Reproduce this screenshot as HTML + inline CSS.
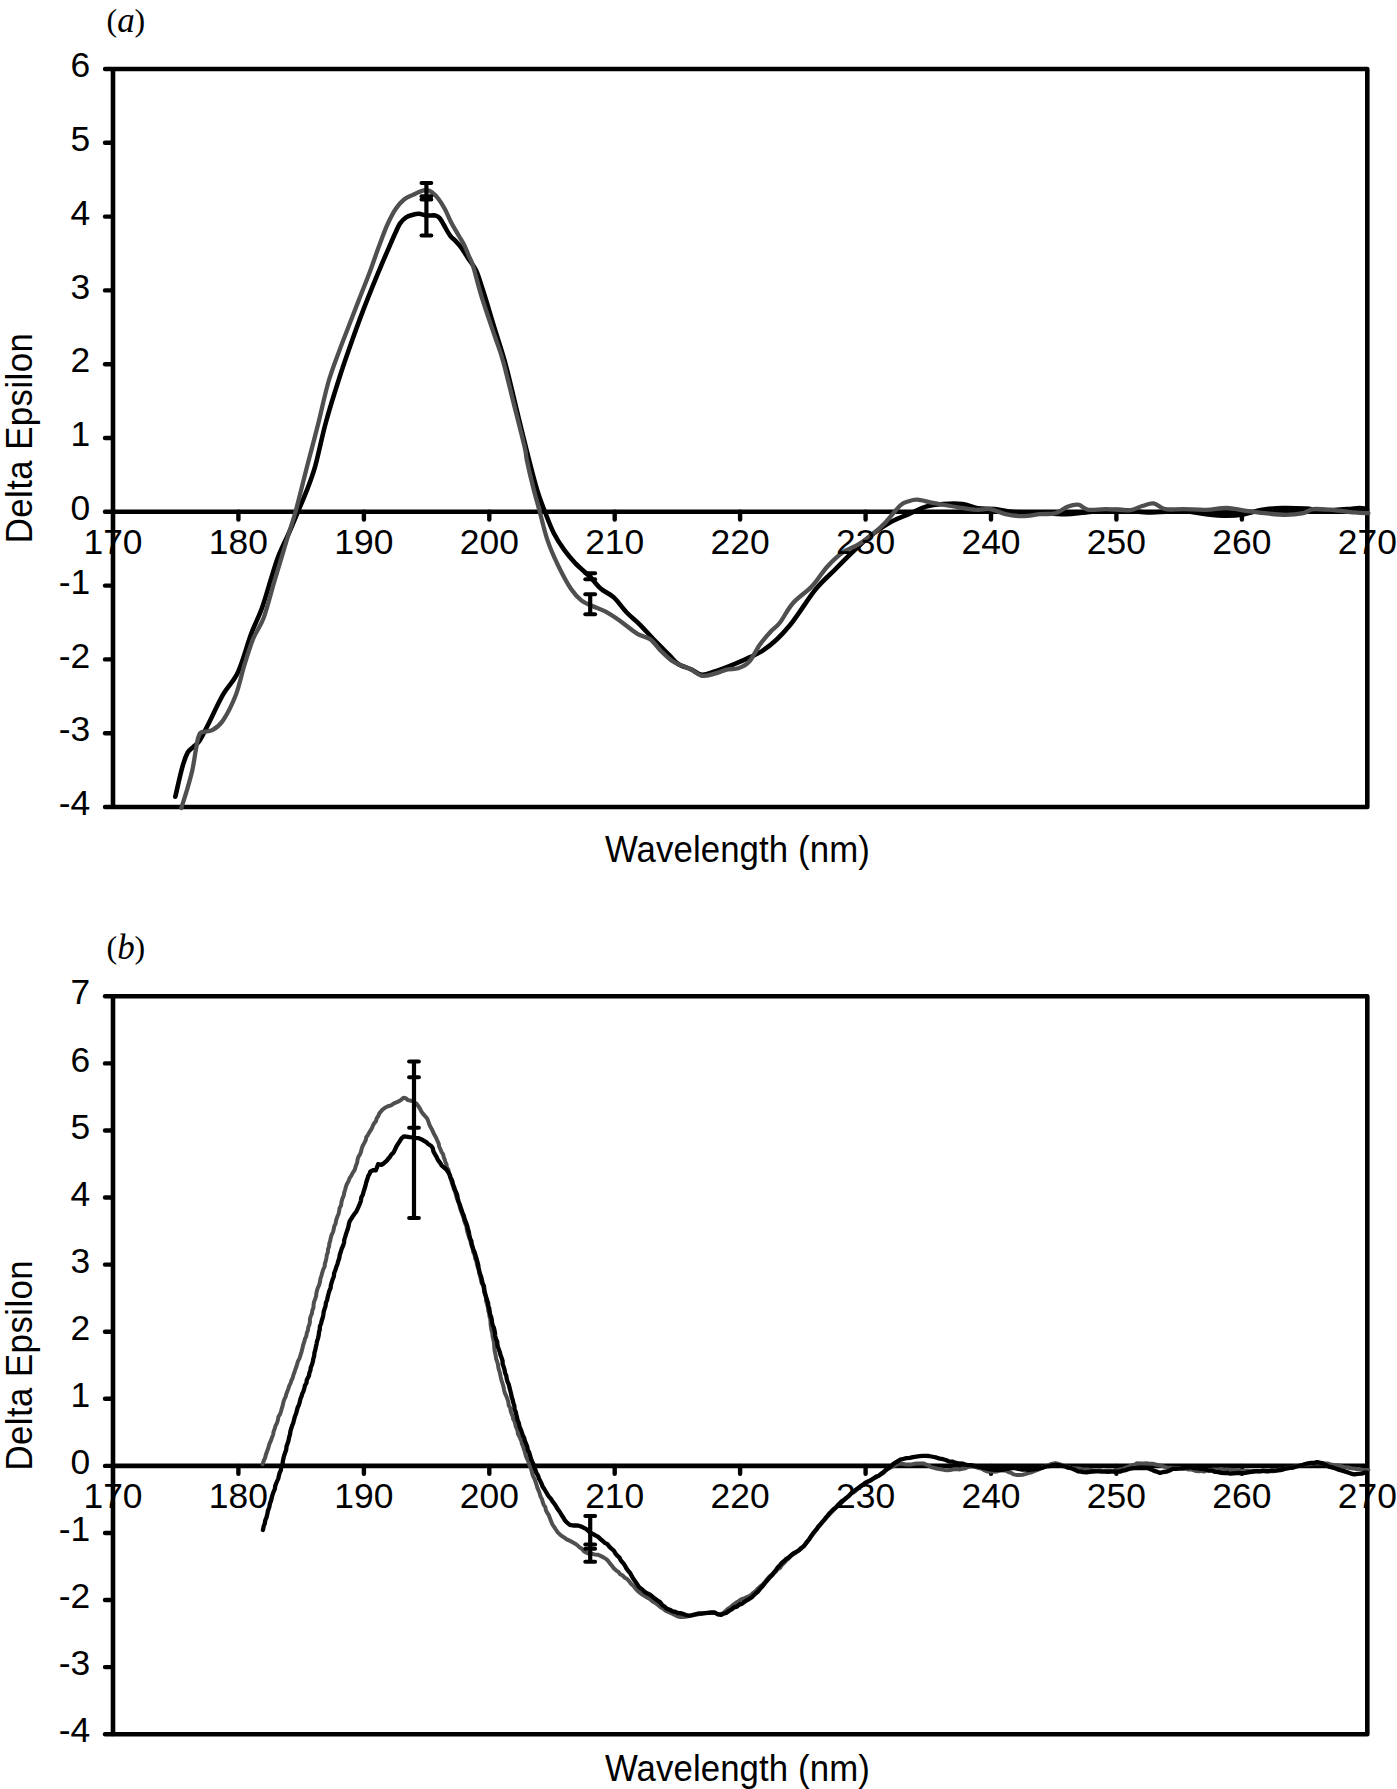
<!DOCTYPE html>
<html><head><meta charset="utf-8"><title>CD spectra</title>
<style>
html,body{margin:0;padding:0;background:#fff;}
body{width:1397px;height:1789px;overflow:hidden;}
svg{display:block;font-family:"Liberation Sans",sans-serif;fill:#000;}
</style></head><body>
<svg width="1397" height="1789" viewBox="0 0 1397 1789">
<rect width="1397" height="1789" fill="#fff"/>
<rect x="113.0" y="69.0" width="1254.3" height="738.0" fill="none" stroke="#000" stroke-width="4.6" stroke-linejoin="round"/>
<line x1="113.0" y1="511.8" x2="1367.3" y2="511.8" stroke="#000" stroke-width="4.6"/>
<line x1="105" y1="807.0" x2="112.0" y2="807.0" stroke="#000" stroke-width="4.4" stroke-linecap="round"/>
<line x1="105" y1="733.2" x2="112.0" y2="733.2" stroke="#000" stroke-width="4.4" stroke-linecap="round"/>
<line x1="105" y1="659.4" x2="112.0" y2="659.4" stroke="#000" stroke-width="4.4" stroke-linecap="round"/>
<line x1="105" y1="585.6" x2="112.0" y2="585.6" stroke="#000" stroke-width="4.4" stroke-linecap="round"/>
<line x1="105" y1="511.8" x2="112.0" y2="511.8" stroke="#000" stroke-width="4.4" stroke-linecap="round"/>
<line x1="105" y1="438.0" x2="112.0" y2="438.0" stroke="#000" stroke-width="4.4" stroke-linecap="round"/>
<line x1="105" y1="364.2" x2="112.0" y2="364.2" stroke="#000" stroke-width="4.4" stroke-linecap="round"/>
<line x1="105" y1="290.4" x2="112.0" y2="290.4" stroke="#000" stroke-width="4.4" stroke-linecap="round"/>
<line x1="105" y1="216.6" x2="112.0" y2="216.6" stroke="#000" stroke-width="4.4" stroke-linecap="round"/>
<line x1="105" y1="142.8" x2="112.0" y2="142.8" stroke="#000" stroke-width="4.4" stroke-linecap="round"/>
<line x1="105" y1="69.0" x2="112.0" y2="69.0" stroke="#000" stroke-width="4.4" stroke-linecap="round"/>
<line x1="238.4" y1="511.8" x2="238.4" y2="519.6" stroke="#000" stroke-width="4.4" stroke-linecap="round"/>
<line x1="363.9" y1="511.8" x2="363.9" y2="519.6" stroke="#000" stroke-width="4.4" stroke-linecap="round"/>
<line x1="489.3" y1="511.8" x2="489.3" y2="519.6" stroke="#000" stroke-width="4.4" stroke-linecap="round"/>
<line x1="614.7" y1="511.8" x2="614.7" y2="519.6" stroke="#000" stroke-width="4.4" stroke-linecap="round"/>
<line x1="740.1" y1="511.8" x2="740.1" y2="519.6" stroke="#000" stroke-width="4.4" stroke-linecap="round"/>
<line x1="865.6" y1="511.8" x2="865.6" y2="519.6" stroke="#000" stroke-width="4.4" stroke-linecap="round"/>
<line x1="991.0" y1="511.8" x2="991.0" y2="519.6" stroke="#000" stroke-width="4.4" stroke-linecap="round"/>
<line x1="1116.4" y1="511.8" x2="1116.4" y2="519.6" stroke="#000" stroke-width="4.4" stroke-linecap="round"/>
<line x1="1241.9" y1="511.8" x2="1241.9" y2="519.6" stroke="#000" stroke-width="4.4" stroke-linecap="round"/>
<path d="M175.3,796.7 C176.5,791.9 180.1,775.0 182.2,767.7 C184.2,760.4 185.8,756.1 187.6,752.7 C189.4,749.3 190.9,749.3 192.9,747.3 C194.9,745.3 196.9,744.6 199.4,740.9 C201.9,737.1 204.1,732.5 208.0,724.8 C211.9,717.1 218.0,703.5 223.0,694.7 C228.0,685.9 233.3,682.2 238.0,672.2 C242.7,662.2 247.0,645.2 250.9,634.6 C254.8,624.0 258.1,618.8 261.7,608.8 C265.3,598.8 269.5,583.4 272.4,574.5 C275.2,565.6 275.9,562.4 278.8,555.2 C281.7,548.0 286.4,538.9 289.6,531.5 C292.8,524.1 295.4,517.7 298.2,511.1 C301.0,504.5 303.4,499.2 306.3,491.7 C309.2,484.2 312.1,477.3 315.3,465.9 C318.5,454.4 321.8,437.3 325.7,423.0 C329.6,408.7 334.4,393.3 338.7,380.0 C342.9,366.7 347.0,355.0 351.2,343.1 C355.4,331.2 359.4,320.1 363.8,308.7 C368.2,297.2 373.6,283.9 377.5,274.4 C381.4,264.9 384.1,258.7 387.2,251.6 C390.2,244.5 393.6,236.6 395.8,231.9 C398.0,227.2 398.4,225.7 400.1,223.3 C401.8,220.9 404.0,218.7 406.1,217.3 C408.2,215.9 410.9,215.3 413.0,214.7 C415.1,214.1 416.7,213.7 419.0,213.8 C421.3,213.9 424.0,215.2 426.7,215.5 C429.4,215.8 433.1,215.1 435.3,215.5 C437.5,215.9 438.2,216.5 439.6,218.1 C441.0,219.7 442.2,222.1 443.9,225.0 C445.6,227.9 447.9,232.6 449.9,235.3 C451.9,238.0 454.0,239.3 455.9,241.3 C457.8,243.3 459.7,245.4 461.1,247.3 C462.5,249.2 463.2,250.5 464.5,252.5 C465.8,254.5 466.9,256.3 468.8,259.3 C470.7,262.3 473.7,265.4 476.0,270.3 C478.3,275.2 479.4,279.3 482.5,288.8 C485.6,298.3 490.5,315.0 494.3,327.5 C498.1,340.0 501.9,350.8 505.5,364.0 C509.1,377.2 512.5,392.7 516.0,407.0 C519.5,421.3 523.1,436.4 526.5,449.9 C529.9,463.4 533.5,477.6 536.5,487.9 C539.5,498.2 541.9,504.0 544.8,511.5 C547.7,519.0 550.4,526.5 553.7,533.0 C557.0,539.5 560.8,545.2 564.4,550.2 C568.0,555.2 570.9,558.6 575.2,563.1 C579.5,567.6 585.9,572.7 590.2,577.0 C594.5,581.3 597.0,585.4 600.9,588.8 C604.8,592.2 609.5,593.4 613.8,597.4 C618.1,601.4 622.4,608.0 626.7,612.5 C631.0,617.0 635.0,619.6 639.6,624.3 C644.2,628.9 649.6,635.2 654.6,640.4 C659.6,645.6 665.7,651.5 669.6,655.4 C673.5,659.3 674.6,661.7 678.2,664.0 C681.8,666.3 687.2,667.6 691.1,669.4 C695.0,671.2 697.9,674.4 701.8,674.7 C705.7,675.1 709.7,673.1 714.7,671.5 C719.7,669.9 726.5,667.2 731.9,665.1 C737.3,663.0 741.9,660.9 746.9,658.6 C751.9,656.3 757.0,654.3 762.0,651.1 C767.0,647.9 772.4,643.6 777.0,639.3 C781.6,635.0 786.1,629.9 789.9,625.3 C793.7,620.6 795.6,617.6 800.0,611.4 C804.4,605.2 810.5,595.3 816.5,588.2 C822.5,581.1 829.3,575.2 835.8,568.8 C842.2,562.3 849.1,555.2 855.2,549.5 C861.3,543.8 866.2,539.1 872.3,534.5 C878.4,529.9 885.6,525.0 891.7,521.6 C897.8,518.2 903.1,516.6 908.8,514.1 C914.5,511.6 920.3,508.3 926.0,506.6 C931.7,504.9 937.1,504.4 943.2,504.0 C949.3,503.6 956.8,503.3 962.5,504.0 C968.2,504.7 972.2,507.4 977.6,508.3 C983.0,509.2 989.0,508.5 994.7,509.1 C1000.4,509.7 1004.7,511.2 1011.9,511.9 C1019.1,512.5 1028.8,512.6 1037.7,513.0 C1046.7,513.4 1057.5,514.3 1065.6,514.2 C1073.6,514.1 1077.5,513.1 1086.0,512.4 C1094.5,511.7 1106.5,509.8 1116.7,509.8 C1126.9,509.8 1136.2,512.2 1147.3,512.4 C1158.4,512.6 1173.3,510.8 1183.1,511.1 C1192.9,511.4 1198.8,513.4 1206.1,514.2 C1213.3,515.0 1220.2,515.7 1226.6,515.7 C1233.0,515.7 1238.5,515.2 1244.4,514.2 C1250.4,513.2 1255.9,510.8 1262.3,509.8 C1268.7,508.8 1275.5,508.2 1282.8,508.0 C1290.0,507.8 1299.4,508.2 1305.8,508.6 C1312.2,509.0 1314.3,510.5 1321.1,510.6 C1327.9,510.7 1340.3,509.5 1346.7,509.1 C1353.1,508.7 1356.0,508.0 1359.4,508.0 C1362.8,508.0 1365.7,508.9 1367.0,509.1" fill="none" stroke="#000" stroke-width="4.6" stroke-linejoin="round" stroke-linecap="round"/>
<path d="M181.3,808.0 C182.2,805.1 184.9,797.1 186.7,790.9 C188.5,784.7 190.7,777.5 192.2,770.8 C193.7,764.1 194.7,756.3 195.7,750.7 C196.7,745.1 197.4,740.1 198.4,737.0 C199.4,733.9 199.2,733.4 201.5,732.3 C203.8,731.2 208.7,732.2 212.3,730.2 C215.9,728.2 219.1,726.4 223.0,720.5 C226.9,714.6 232.3,704.0 235.9,694.7 C239.5,685.4 241.6,674.0 244.5,664.7 C247.4,655.4 249.9,646.8 253.1,638.9 C256.3,631.0 260.2,627.1 263.8,617.4 C267.4,607.7 270.6,594.1 274.5,580.9 C278.4,567.7 283.9,549.6 287.4,538.0 C290.9,526.4 292.3,523.5 295.6,511.5 C298.9,499.5 303.4,480.8 307.2,466.0 C311.0,451.2 314.8,437.3 318.4,423.0 C322.0,408.7 325.0,393.3 329.0,380.0 C333.0,366.7 337.2,356.4 342.2,343.1 C347.2,329.8 354.2,312.1 358.8,300.1 C363.4,288.2 366.7,280.2 370.0,271.4 C373.3,262.6 375.7,255.0 378.6,247.3 C381.5,239.6 384.3,231.4 387.2,225.0 C390.1,218.6 392.9,213.0 395.8,208.7 C398.7,204.4 401.5,201.5 404.4,199.2 C407.3,196.9 410.1,196.3 413.0,194.9 C415.9,193.5 419.2,191.8 421.5,191.0 C423.8,190.2 425.0,190.0 426.7,190.2 C428.4,190.4 429.9,190.8 431.9,192.3 C433.9,193.8 436.6,196.5 438.7,199.2 C440.8,201.9 442.5,204.7 444.7,208.7 C446.9,212.7 449.3,218.9 451.6,223.3 C453.9,227.7 456.4,231.6 458.5,235.3 C460.6,239.0 462.8,242.2 464.5,245.6 C466.2,249.0 467.4,252.5 468.8,255.9 C470.2,259.3 470.9,259.3 473.1,266.2 C475.3,273.1 478.2,285.8 481.8,297.4 C485.4,309.0 491.1,325.3 494.7,336.0 C498.3,346.7 500.1,350.3 503.3,361.8 C506.5,373.3 510.4,390.5 514.0,404.8 C517.6,419.1 522.7,438.5 524.8,447.7 C526.9,456.9 525.4,453.3 526.8,460.0 C528.2,466.7 531.1,479.3 533.3,487.9 C535.4,496.5 537.4,502.9 539.7,511.5 C542.0,520.1 544.2,530.4 547.2,539.4 C550.2,548.4 554.0,557.0 558.0,565.2 C562.0,573.4 567.0,582.9 570.9,588.8 C574.8,594.7 578.0,597.7 581.6,600.6 C585.2,603.5 588.4,604.2 592.3,606.0 C596.2,607.8 600.6,608.9 605.2,611.4 C609.9,613.9 614.8,617.2 620.2,621.0 C625.6,624.8 632.4,630.9 637.4,633.9 C642.4,636.9 646.4,636.4 650.3,639.3 C654.2,642.2 657.4,647.5 661.0,651.1 C664.6,654.7 668.6,658.5 671.8,660.8 C675.0,663.1 677.2,663.7 680.4,665.1 C683.6,666.5 687.5,667.6 691.1,669.4 C694.7,671.2 697.9,675.1 701.8,675.8 C705.7,676.5 710.4,674.8 714.7,673.7 C719.0,672.6 723.7,670.3 727.6,669.4 C731.5,668.5 734.7,669.6 738.3,668.3 C741.9,667.0 745.5,665.7 749.1,661.8 C752.7,657.9 756.2,649.7 759.8,644.7 C763.4,639.7 767.2,635.5 770.6,631.8 C774.0,628.1 776.3,627.3 780.0,622.5 C783.7,617.7 787.5,609.3 792.9,603.2 C798.3,597.1 806.5,592.1 812.2,586.0 C817.9,579.9 822.2,572.2 827.2,566.7 C832.2,561.2 837.3,556.3 842.3,552.7 C847.3,549.1 852.3,548.2 857.3,545.2 C862.3,542.2 867.6,538.2 872.3,534.5 C876.9,530.8 880.6,527.5 885.2,522.7 C889.9,517.9 896.3,509.1 900.2,505.5 C904.1,501.9 905.9,502.2 908.8,501.2 C911.7,500.2 913.8,499.5 917.4,499.7 C921.0,499.9 925.3,501.3 930.3,502.3 C935.3,503.3 941.8,504.5 947.5,505.5 C953.2,506.5 959.7,507.6 964.7,508.3 C969.7,509.0 973.3,509.7 977.6,509.8 C981.9,509.9 985.8,508.4 990.4,509.1 C995.0,509.8 1000.1,512.9 1005.5,514.1 C1010.9,515.3 1016.9,516.2 1022.6,516.2 C1028.3,516.2 1034.5,514.7 1040.0,514.2 C1045.5,513.7 1050.6,514.5 1055.3,513.2 C1060.0,511.9 1064.3,507.9 1068.1,506.5 C1071.9,505.1 1074.9,504.1 1078.3,504.7 C1081.7,505.2 1083.9,509.1 1088.6,509.8 C1093.3,510.5 1099.6,509.0 1106.4,509.1 C1113.2,509.2 1123.4,510.8 1129.4,510.3 C1135.4,509.8 1138.2,507.1 1142.2,506.0 C1146.2,504.9 1149.9,502.9 1153.7,503.4 C1157.5,503.9 1160.3,508.2 1165.2,509.1 C1170.1,510.1 1176.3,509.0 1183.1,509.1 C1189.9,509.2 1198.8,510.0 1206.1,509.8 C1213.3,509.6 1220.2,507.9 1226.6,508.0 C1233.0,508.1 1238.0,509.7 1244.4,510.6 C1250.8,511.5 1258.1,512.5 1264.9,513.2 C1271.7,513.9 1278.9,514.9 1285.3,514.9 C1291.7,514.9 1298.5,514.2 1303.2,513.2 C1307.9,512.2 1308.3,509.6 1313.4,509.1 C1318.5,508.6 1327.1,509.6 1333.9,510.1 C1340.7,510.7 1348.5,511.9 1354.3,512.4 C1360.0,512.9 1366.1,513.1 1368.4,513.2" fill="none" stroke="#4f4f4f" stroke-width="4.3" stroke-linejoin="round" stroke-linecap="round"/>
<line x1="426.4" y1="183.0" x2="426.4" y2="235.6" stroke="#000" stroke-width="4.2"/>
<line x1="421.5" y1="183.0" x2="431.3" y2="183.0" stroke="#000" stroke-width="4" stroke-linecap="round"/>
<line x1="421.5" y1="196.3" x2="431.3" y2="196.3" stroke="#000" stroke-width="4" stroke-linecap="round"/>
<line x1="421.5" y1="199.6" x2="431.3" y2="199.6" stroke="#000" stroke-width="4" stroke-linecap="round"/>
<line x1="421.5" y1="235.6" x2="431.3" y2="235.6" stroke="#000" stroke-width="4" stroke-linecap="round"/>
<line x1="590.2" y1="573.2" x2="590.2" y2="579.2" stroke="#000" stroke-width="4.2"/>
<line x1="585.3" y1="573.2" x2="595.1" y2="573.2" stroke="#000" stroke-width="4" stroke-linecap="round"/>
<line x1="585.3" y1="579.2" x2="595.1" y2="579.2" stroke="#000" stroke-width="4" stroke-linecap="round"/>
<line x1="590.2" y1="594.2" x2="590.2" y2="614.2" stroke="#000" stroke-width="4.2"/>
<line x1="585.3" y1="594.2" x2="595.1" y2="594.2" stroke="#000" stroke-width="4" stroke-linecap="round"/>
<line x1="585.3" y1="614.2" x2="595.1" y2="614.2" stroke="#000" stroke-width="4" stroke-linecap="round"/>
<text transform="translate(90.3,815.1) scale(0.992,1)" text-anchor="end" font-size="35.7">-4</text>
<text transform="translate(90.3,741.3) scale(0.992,1)" text-anchor="end" font-size="35.7">-3</text>
<text transform="translate(90.3,667.5) scale(0.992,1)" text-anchor="end" font-size="35.7">-2</text>
<text transform="translate(90.3,593.7) scale(0.992,1)" text-anchor="end" font-size="35.7">-1</text>
<text transform="translate(90.3,519.9) scale(0.992,1)" text-anchor="end" font-size="35.7">0</text>
<text transform="translate(90.3,446.1) scale(0.992,1)" text-anchor="end" font-size="35.7">1</text>
<text transform="translate(90.3,372.3) scale(0.992,1)" text-anchor="end" font-size="35.7">2</text>
<text transform="translate(90.3,298.5) scale(0.992,1)" text-anchor="end" font-size="35.7">3</text>
<text transform="translate(90.3,224.7) scale(0.992,1)" text-anchor="end" font-size="35.7">4</text>
<text transform="translate(90.3,150.9) scale(0.992,1)" text-anchor="end" font-size="35.7">5</text>
<text transform="translate(90.3,77.1) scale(0.992,1)" text-anchor="end" font-size="35.7">6</text>
<text transform="translate(113.0,553.7) scale(0.992,1)" text-anchor="middle" font-size="35.7">170</text>
<text transform="translate(238.4,553.7) scale(0.992,1)" text-anchor="middle" font-size="35.7">180</text>
<text transform="translate(363.9,553.7) scale(0.992,1)" text-anchor="middle" font-size="35.7">190</text>
<text transform="translate(489.3,553.7) scale(0.992,1)" text-anchor="middle" font-size="35.7">200</text>
<text transform="translate(614.7,553.7) scale(0.992,1)" text-anchor="middle" font-size="35.7">210</text>
<text transform="translate(740.1,553.7) scale(0.992,1)" text-anchor="middle" font-size="35.7">220</text>
<text transform="translate(865.6,553.7) scale(0.992,1)" text-anchor="middle" font-size="35.7">230</text>
<text transform="translate(991.0,553.7) scale(0.992,1)" text-anchor="middle" font-size="35.7">240</text>
<text transform="translate(1116.4,553.7) scale(0.992,1)" text-anchor="middle" font-size="35.7">250</text>
<text transform="translate(1241.9,553.7) scale(0.992,1)" text-anchor="middle" font-size="35.7">260</text>
<text transform="translate(1367.3,553.7) scale(0.992,1)" text-anchor="middle" font-size="35.7">270</text>
<text transform="translate(737.4,861.5) scale(0.961,1)" text-anchor="middle" letter-spacing="0.1" font-size="36.2">Wavelength (nm)</text>
<text transform="translate(31.9,438.0) rotate(-90) scale(0.961,1)" text-anchor="middle" letter-spacing="0.45" font-size="36.2">Delta Epsilon</text>
<text y="32.0" font-family="'Liberation Serif',serif" font-size="35"><tspan x="106.4" dy="-1.5" font-size="31.9">(</tspan><tspan x="117.3" dy="1.5" font-style="italic">a</tspan><tspan x="134.6" dy="-1.5" font-size="31.9">)</tspan></text>
<rect x="113.0" y="996.3" width="1254.3" height="737.9" fill="none" stroke="#000" stroke-width="4.6" stroke-linejoin="round"/>
<line x1="113.0" y1="1465.9" x2="1367.3" y2="1465.9" stroke="#000" stroke-width="4.6"/>
<line x1="105" y1="1734.2" x2="112.0" y2="1734.2" stroke="#000" stroke-width="4.4" stroke-linecap="round"/>
<line x1="105" y1="1667.1" x2="112.0" y2="1667.1" stroke="#000" stroke-width="4.4" stroke-linecap="round"/>
<line x1="105" y1="1600.0" x2="112.0" y2="1600.0" stroke="#000" stroke-width="4.4" stroke-linecap="round"/>
<line x1="105" y1="1533.0" x2="112.0" y2="1533.0" stroke="#000" stroke-width="4.4" stroke-linecap="round"/>
<line x1="105" y1="1465.9" x2="112.0" y2="1465.9" stroke="#000" stroke-width="4.4" stroke-linecap="round"/>
<line x1="105" y1="1398.8" x2="112.0" y2="1398.8" stroke="#000" stroke-width="4.4" stroke-linecap="round"/>
<line x1="105" y1="1331.7" x2="112.0" y2="1331.7" stroke="#000" stroke-width="4.4" stroke-linecap="round"/>
<line x1="105" y1="1264.6" x2="112.0" y2="1264.6" stroke="#000" stroke-width="4.4" stroke-linecap="round"/>
<line x1="105" y1="1197.5" x2="112.0" y2="1197.5" stroke="#000" stroke-width="4.4" stroke-linecap="round"/>
<line x1="105" y1="1130.5" x2="112.0" y2="1130.5" stroke="#000" stroke-width="4.4" stroke-linecap="round"/>
<line x1="105" y1="1063.4" x2="112.0" y2="1063.4" stroke="#000" stroke-width="4.4" stroke-linecap="round"/>
<line x1="105" y1="996.3" x2="112.0" y2="996.3" stroke="#000" stroke-width="4.4" stroke-linecap="round"/>
<line x1="238.4" y1="1465.9" x2="238.4" y2="1473.7" stroke="#000" stroke-width="4.4" stroke-linecap="round"/>
<line x1="363.9" y1="1465.9" x2="363.9" y2="1473.7" stroke="#000" stroke-width="4.4" stroke-linecap="round"/>
<line x1="489.3" y1="1465.9" x2="489.3" y2="1473.7" stroke="#000" stroke-width="4.4" stroke-linecap="round"/>
<line x1="614.7" y1="1465.9" x2="614.7" y2="1473.7" stroke="#000" stroke-width="4.4" stroke-linecap="round"/>
<line x1="740.1" y1="1465.9" x2="740.1" y2="1473.7" stroke="#000" stroke-width="4.4" stroke-linecap="round"/>
<line x1="865.6" y1="1465.9" x2="865.6" y2="1473.7" stroke="#000" stroke-width="4.4" stroke-linecap="round"/>
<line x1="991.0" y1="1465.9" x2="991.0" y2="1473.7" stroke="#000" stroke-width="4.4" stroke-linecap="round"/>
<line x1="1116.4" y1="1465.9" x2="1116.4" y2="1473.7" stroke="#000" stroke-width="4.4" stroke-linecap="round"/>
<line x1="1241.9" y1="1465.9" x2="1241.9" y2="1473.7" stroke="#000" stroke-width="4.4" stroke-linecap="round"/>
<path d="M262.6,1464.1 L263.2,1462.3 L264.0,1460.1 L265.2,1457.6 L265.9,1454.5 L267.1,1451.3 L268.3,1448.0 L269.2,1444.4 L270.7,1441.1 L271.9,1437.7 L273.1,1434.6 L273.6,1431.6 L274.7,1428.7 L275.5,1425.7 L277.0,1423.0 L277.9,1420.0 L278.4,1416.8 L280.1,1414.1 L281.1,1411.1 L281.9,1408.1 L282.8,1405.2 L283.4,1402.2 L284.3,1399.4 L285.7,1396.7 L286.3,1393.9 L287.4,1391.2 L288.4,1388.6 L289.2,1385.8 L290.5,1383.3 L291.4,1380.5 L292.7,1377.9 L293.4,1375.0 L294.5,1372.2 L295.3,1369.5 L296.4,1366.8 L297.2,1364.0 L298.0,1361.1 L299.5,1358.4 L300.4,1355.5 L301.3,1352.7 L302.1,1349.8 L302.7,1347.0 L303.4,1344.2 L304.3,1341.7 L304.9,1339.1 L306.3,1336.1 L306.8,1333.0 L307.9,1330.2 L308.3,1327.3 L309.4,1324.6 L309.9,1321.9 L309.9,1319.0 L310.7,1316.3 L311.9,1313.6 L312.3,1310.6 L313.4,1307.8 L313.6,1304.7 L314.1,1301.7 L315.2,1298.9 L316.1,1296.0 L316.4,1293.1 L317.0,1290.3 L317.9,1287.7 L319.3,1284.6 L320.0,1281.5 L320.5,1278.4 L321.5,1275.6 L322.3,1272.6 L323.2,1269.5 L324.7,1266.3 L324.9,1263.6 L325.8,1260.9 L326.4,1258.1 L326.8,1255.1 L327.9,1252.3 L328.0,1249.2 L329.1,1246.4 L329.3,1243.5 L330.2,1240.8 L330.7,1238.2 L331.6,1234.9 L333.0,1232.1 L333.7,1229.3 L334.2,1226.4 L335.6,1223.6 L336.1,1220.3 L337.3,1216.8 L338.4,1214.3 L339.1,1211.4 L339.5,1208.2 L341.1,1205.3 L341.5,1201.9 L342.4,1198.6 L343.7,1195.6 L344.3,1192.4 L345.2,1189.5 L345.9,1186.8 L346.7,1184.5 L348.5,1181.1 L349.6,1178.2 L351.2,1175.9 L352.2,1173.8 L353.4,1171.8 L354.8,1169.7 L355.5,1167.0 L356.3,1164.7 L357.2,1162.5 L357.5,1159.7 L358.5,1156.6 L360.0,1154.4 L361.0,1151.7 L361.7,1148.5 L362.9,1145.5 L364.5,1142.6 L365.8,1139.8 L366.3,1137.1 L367.7,1135.4 L369.3,1132.4 L370.3,1130.9 L371.6,1128.8 L372.6,1126.4 L373.9,1123.6 L376.0,1121.1 L376.8,1118.1 L378.3,1116.0 L379.5,1113.1 L381.0,1111.4 L382.5,1109.6 L384.9,1107.8 L387.9,1106.3 L391.1,1105.4 L393.9,1103.4 L397.0,1102.1 L399.6,1100.9 L402.0,1099.1 L403.5,1097.7 L405.6,1098.1 L408.0,1100.1 L411.0,1100.7 L414.3,1102.0 L416.9,1104.0 L418.5,1106.4 L420.1,1108.9 L421.3,1111.5 L422.9,1113.6 L424.6,1115.6 L426.7,1117.8 L427.9,1120.2 L428.8,1123.0 L430.0,1125.9 L431.7,1128.9 L432.9,1131.6 L434.3,1134.6 L436.0,1137.6 L437.4,1140.7 L438.7,1143.6 L439.2,1146.7 L440.5,1149.3 L441.4,1151.9 L443.1,1154.2 L443.6,1156.7 L444.7,1159.4 L445.3,1161.9 L446.5,1164.3 L446.9,1167.5 L448.4,1169.6 L448.8,1172.2 L449.4,1174.8 L450.2,1177.6 L451.2,1180.7 L452.3,1184.0 L453.1,1186.5 L453.9,1189.2 L455.2,1191.9 L455.9,1194.8 L456.7,1197.9 L457.8,1200.9 L459.1,1203.9 L459.8,1207.0 L460.7,1210.1 L461.8,1212.7 L462.6,1215.3 L463.6,1217.9 L464.2,1220.6 L465.0,1223.2 L466.3,1225.9 L466.7,1228.8 L467.3,1231.8 L468.3,1234.9 L469.3,1238.1 L470.3,1240.6 L470.9,1243.4 L471.8,1246.3 L472.8,1249.2 L473.3,1252.3 L474.7,1255.2 L475.1,1258.4 L476.5,1261.4 L476.9,1264.6 L477.9,1267.7 L478.9,1270.6 L479.3,1273.7 L480.2,1276.5 L480.9,1279.5 L481.4,1282.3 L482.6,1284.8 L483.5,1287.4 L483.9,1290.0 L484.3,1292.6 L485.3,1295.2 L486.0,1297.9 L486.1,1301.0 L487.0,1304.0 L487.9,1307.3 L488.3,1311.1 L489.2,1313.4 L489.4,1316.1 L490.2,1318.7 L490.5,1321.5 L490.6,1324.4 L491.0,1327.3 L491.5,1330.3 L492.3,1333.3 L492.6,1336.4 L493.3,1339.5 L494.0,1342.7 L494.2,1345.9 L494.4,1349.1 L495.0,1352.3 L495.7,1355.5 L496.1,1358.7 L497.2,1361.7 L498.0,1364.8 L498.4,1367.9 L499.3,1370.8 L500.1,1373.8 L500.7,1376.9 L501.4,1380.0 L502.4,1383.2 L503.4,1386.3 L504.0,1389.6 L504.8,1392.9 L506.2,1395.9 L507.4,1399.0 L508.4,1402.1 L508.7,1405.3 L510.3,1408.1 L510.7,1411.2 L511.7,1413.9 L512.8,1416.5 L513.2,1419.2 L514.6,1421.4 L515.2,1423.7 L515.6,1425.9 L517.4,1430.3 L518.0,1434.1 L519.5,1436.8 L520.5,1439.2 L521.5,1441.3 L521.8,1443.5 L522.8,1445.5 L523.5,1447.9 L524.5,1450.8 L525.3,1453.6 L526.0,1456.2 L527.1,1458.8 L528.4,1461.4 L529.1,1464.2 L530.3,1467.1 L531.4,1469.8 L532.1,1472.9 L533.0,1475.9 L534.5,1478.8 L535.6,1481.9 L536.6,1485.0 L537.5,1488.1 L538.7,1490.9 L539.7,1493.7 L540.6,1496.6 L542.0,1499.2 L542.7,1502.1 L543.7,1504.8 L545.4,1507.2 L545.8,1510.0 L547.0,1512.4 L548.9,1515.4 L550.0,1518.6 L551.3,1521.7 L552.5,1524.6 L554.3,1527.1 L555.8,1529.5 L557.6,1532.2 L559.9,1534.4 L562.1,1536.3 L564.6,1537.7 L566.5,1539.3 L569.7,1540.7 L572.2,1542.1 L575.1,1543.7 L577.2,1545.1 L579.3,1547.1 L581.8,1548.7 L583.7,1551.0 L585.7,1552.4 L588.8,1553.6 L591.6,1553.7 L594.5,1554.4 L597.6,1554.7 L600.6,1555.9 L603.9,1557.6 L606.0,1558.9 L608.1,1560.8 L609.9,1563.4 L611.9,1565.8 L613.8,1568.3 L616.0,1570.3 L618.4,1571.9 L620.2,1574.3 L622.8,1575.6 L624.7,1577.8 L627.1,1579.1 L628.9,1580.9 L631.0,1583.7 L633.3,1585.8 L635.3,1588.2 L637.4,1590.7 L639.6,1592.6 L642.1,1594.4 L644.9,1596.0 L647.5,1597.8 L650.3,1599.3 L652.7,1601.5 L655.8,1603.1 L658.3,1605.2 L660.7,1607.3 L663.3,1608.9 L666.0,1610.9 L668.9,1612.2 L671.6,1613.3 L673.8,1614.5 L677.3,1616.2 L680.4,1617.0 L682.9,1616.9 L685.8,1616.7 L689.1,1616.1 L691.9,1615.0 L695.2,1614.8 L698.6,1614.2 L701.8,1613.3 L705.2,1613.1 L708.6,1612.6 L711.9,1612.8 L714.7,1612.8 L717.8,1614.2 L721.1,1613.6 L723.4,1613.1 L725.5,1611.0 L728.0,1608.9 L730.9,1606.8 L733.5,1604.5 L736.2,1602.5 L738.6,1601.2 L740.8,1599.5 L743.4,1598.7 L745.9,1597.4 L748.6,1596.5 L751.1,1594.9 L753.3,1592.8 L755.6,1591.0 L757.7,1588.7 L760.2,1586.6 L762.7,1584.4 L765.0,1582.0 L766.8,1579.5 L768.7,1577.4 L770.4,1575.5 L773.5,1573.2 L775.9,1571.5 L777.5,1569.3 L780.2,1567.7 L781.7,1565.2 L783.9,1563.1 L786.0,1560.8 L788.5,1558.8 L790.6,1556.4 L793.1,1554.5 L795.8,1552.8 L798.1,1550.7 L801.1,1549.1 L803.4,1546.3 L805.4,1544.4 L807.1,1542.0 L808.8,1539.6 L810.8,1537.2 L812.6,1534.6 L814.5,1532.0 L816.4,1529.5 L818.3,1527.3 L819.8,1525.0 L821.7,1522.8 L823.8,1520.8 L825.7,1518.5 L827.6,1516.3 L829.7,1514.3 L831.6,1512.1 L833.7,1510.1 L835.5,1507.7 L837.9,1505.9 L840.1,1503.9 L842.4,1502.0 L844.3,1499.6 L846.4,1497.7 L848.9,1496.3 L851.0,1493.8 L853.9,1492.2 L856.4,1490.2 L858.5,1487.9 L861.0,1486.1 L863.7,1484.7 L865.8,1482.8 L868.4,1481.1 L871.2,1480.1 L873.5,1478.5 L876.1,1477.5 L878.3,1475.7 L880.9,1474.4 L883.5,1472.9 L885.8,1470.6 L888.4,1468.7 L891.2,1467.2 L893.8,1465.8 L896.1,1464.8 L899.3,1463.4 L902.4,1463.8 L905.5,1464.4 L908.8,1464.4 L911.8,1464.4 L914.9,1463.8 L918.1,1463.5 L921.1,1463.5 L924.0,1463.6 L926.8,1464.8 L929.4,1466.0 L931.9,1467.4 L934.7,1468.0 L937.7,1468.7 L940.8,1469.2 L944.1,1469.9 L947.5,1470.2 L950.4,1470.1 L953.5,1469.3 L956.7,1469.0 L959.8,1469.4 L962.5,1468.7 L965.4,1468.3 L967.7,1467.1 L970.3,1466.6 L973.3,1466.6 L975.8,1467.1 L978.7,1468.1 L981.9,1468.8 L984.7,1470.5 L987.6,1471.6 L990.4,1471.6 L993.9,1471.8 L997.2,1471.4 L1000.2,1470.5 L1003.3,1470.2 L1006.0,1470.7 L1008.5,1472.0 L1011.2,1472.8 L1013.5,1474.4 L1016.2,1474.9 L1019.4,1474.9 L1022.7,1474.7 L1025.9,1473.9 L1029.1,1472.9 L1031.7,1472.2 L1034.2,1471.1 L1037.0,1470.2 L1039.5,1468.9 L1041.9,1467.4 L1044.7,1466.8 L1047.3,1465.5 L1049.9,1464.5 L1052.5,1463.8 L1055.3,1463.1 L1058.1,1463.8 L1061.0,1464.7 L1064.0,1465.6 L1067.2,1466.8 L1070.7,1467.7 L1073.3,1467.9 L1076.0,1468.6 L1078.9,1468.5 L1081.7,1469.1 L1084.7,1469.6 L1087.9,1469.5 L1091.1,1470.0 L1093.7,1470.4 L1096.5,1470.5 L1099.4,1470.3 L1102.4,1471.0 L1105.4,1470.8 L1108.4,1470.5 L1111.3,1470.7 L1114.1,1470.5 L1116.7,1470.1 L1119.9,1469.4 L1123.2,1468.9 L1126.1,1467.5 L1129.0,1466.4 L1131.9,1465.4 L1134.6,1464.7 L1137.0,1463.3 L1140.5,1463.4 L1143.6,1463.5 L1146.5,1463.3 L1149.4,1463.7 L1152.5,1463.8 L1155.5,1464.5 L1158.6,1465.3 L1161.7,1465.9 L1164.8,1466.8 L1167.8,1467.8 L1170.8,1467.8 L1173.8,1467.9 L1176.8,1468.3 L1179.9,1468.1 L1183.1,1468.7 L1185.9,1468.8 L1188.8,1469.6 L1192.0,1469.6 L1194.9,1470.7 L1198.0,1471.3 L1201.0,1470.9 L1203.9,1471.6 L1206.6,1470.6 L1209.5,1470.4 L1212.3,1469.6 L1215.5,1469.5 L1218.9,1469.4 L1221.4,1469.0 L1224.0,1469.8 L1226.8,1469.5 L1229.7,1469.8 L1232.6,1470.1 L1235.6,1470.1 L1238.6,1470.3 L1241.5,1470.8 L1244.4,1470.8 L1247.3,1470.8 L1250.2,1471.2 L1253.1,1471.0 L1256.1,1470.9 L1259.0,1471.2 L1261.9,1471.1 L1264.7,1471.2 L1267.4,1471.6 L1270.0,1471.2 L1273.2,1471.3 L1276.3,1470.7 L1279.2,1469.6 L1282.2,1469.7 L1285.0,1469.0 L1287.6,1467.7 L1290.5,1467.8 L1293.6,1466.8 L1296.7,1466.3 L1299.9,1466.0 L1302.8,1464.9 L1305.6,1464.6 L1308.3,1464.5 L1311.9,1463.9 L1315.0,1463.4 L1318.0,1463.6 L1321.1,1463.5 L1324.3,1463.5 L1327.5,1463.5 L1330.7,1464.4 L1333.9,1464.9 L1337.1,1465.3 L1340.4,1465.8 L1343.5,1466.9 L1346.8,1467.2 L1350.0,1468.0 L1353.3,1468.6 L1356.5,1468.9 L1359.4,1469.1 L1363.0,1469.7 L1366.2,1469.9 L1368.4,1470.1" fill="none" stroke="#4f4f4f" stroke-width="4.0" stroke-linejoin="round" stroke-linecap="round"/>
<path d="M262.9,1530.0 L263.3,1528.2 L263.7,1526.0 L264.8,1523.5 L265.2,1520.5 L266.5,1517.4 L267.3,1514.0 L268.0,1510.5 L269.3,1507.2 L269.9,1503.7 L271.1,1500.5 L271.8,1497.3 L272.6,1494.5 L273.7,1491.5 L274.9,1488.8 L275.2,1486.0 L276.1,1483.5 L277.2,1481.0 L278.3,1478.5 L278.9,1475.8 L279.6,1473.0 L280.9,1470.1 L281.2,1466.6 L282.5,1464.2 L282.8,1461.4 L283.4,1458.6 L284.1,1455.7 L285.1,1452.8 L286.2,1449.8 L286.5,1446.6 L287.6,1443.6 L288.5,1440.6 L289.1,1437.4 L290.0,1434.5 L290.4,1431.4 L291.2,1428.6 L292.1,1425.8 L293.3,1422.8 L294.1,1419.6 L294.9,1416.5 L296.1,1413.5 L296.9,1410.4 L297.7,1407.4 L299.0,1404.7 L299.8,1401.8 L300.4,1399.0 L301.5,1396.4 L302.2,1393.9 L303.3,1391.6 L304.3,1388.3 L305.0,1385.3 L306.5,1382.9 L306.7,1380.3 L307.8,1378.0 L309.0,1375.6 L309.4,1372.9 L310.5,1370.0 L310.8,1367.3 L312.0,1364.7 L312.8,1361.8 L313.3,1358.8 L314.2,1355.9 L314.4,1352.8 L315.3,1349.9 L315.9,1346.9 L316.5,1344.1 L317.0,1341.4 L318.0,1338.3 L318.7,1335.2 L319.0,1332.1 L319.8,1329.3 L319.9,1326.3 L321.1,1323.5 L321.7,1320.7 L322.7,1317.8 L323.3,1314.8 L323.7,1311.7 L324.6,1308.8 L325.6,1305.9 L325.9,1302.8 L327.1,1300.0 L327.7,1297.0 L328.5,1294.0 L329.3,1291.0 L330.6,1288.2 L330.9,1285.1 L331.8,1282.1 L332.7,1279.2 L333.9,1276.3 L334.1,1273.3 L335.2,1270.5 L336.2,1267.3 L337.4,1264.2 L338.3,1261.0 L339.3,1257.9 L339.8,1254.7 L340.8,1251.8 L341.6,1249.0 L343.0,1245.9 L344.0,1242.8 L344.3,1239.6 L345.2,1236.8 L346.0,1234.2 L346.8,1231.7 L347.8,1228.8 L348.5,1226.3 L348.9,1223.9 L349.8,1220.9 L351.3,1218.8 L352.7,1216.4 L354.4,1214.0 L356.3,1211.6 L357.6,1208.8 L358.8,1206.1 L360.0,1203.4 L360.9,1200.6 L361.3,1197.5 L362.8,1194.8 L363.5,1191.9 L364.5,1189.0 L365.4,1185.9 L366.2,1182.5 L367.3,1179.3 L368.2,1176.1 L369.7,1173.7 L370.4,1171.4 L373.5,1170.1 L375.8,1170.4 L377.0,1167.2 L378.1,1164.1 L381.4,1164.9 L383.7,1163.4 L386.6,1160.8 L388.1,1159.0 L389.8,1157.0 L391.3,1154.6 L393.5,1152.6 L394.9,1149.8 L396.3,1146.7 L398.0,1143.9 L399.5,1141.6 L401.5,1138.4 L403.8,1136.4 L406.4,1136.7 L409.4,1137.2 L412.5,1137.4 L415.3,1137.8 L418.2,1138.1 L421.2,1139.2 L423.6,1140.6 L426.3,1142.1 L428.5,1144.2 L431.0,1145.8 L432.8,1148.2 L433.4,1151.4 L434.9,1154.1 L436.4,1156.6 L437.9,1159.9 L440.0,1162.6 L441.5,1165.3 L443.9,1167.3 L446.7,1169.8 L447.9,1171.8 L449.5,1174.2 L450.6,1177.3 L452.1,1180.6 L453.1,1184.7 L454.1,1187.0 L454.9,1189.6 L456.1,1192.3 L457.2,1195.1 L457.7,1198.3 L458.6,1201.4 L459.7,1204.4 L460.7,1207.5 L461.7,1210.5 L462.6,1213.1 L463.8,1215.6 L464.4,1218.3 L465.3,1220.9 L466.4,1223.4 L467.3,1226.2 L467.9,1229.0 L468.8,1231.9 L469.4,1235.1 L470.1,1238.4 L471.3,1240.9 L471.7,1243.8 L472.5,1246.7 L473.4,1249.6 L474.7,1252.5 L475.6,1255.6 L476.5,1258.7 L477.4,1261.8 L478.2,1264.9 L478.7,1268.1 L479.3,1271.2 L480.2,1274.1 L481.2,1276.9 L481.9,1280.0 L482.5,1283.0 L483.9,1285.9 L484.2,1288.9 L484.7,1291.9 L485.5,1294.8 L486.3,1297.7 L487.2,1300.5 L488.1,1303.2 L488.3,1306.0 L489.3,1308.6 L489.6,1311.4 L490.1,1314.4 L491.2,1317.1 L491.8,1319.8 L492.0,1322.4 L492.7,1325.0 L493.8,1327.5 L494.4,1330.1 L495.0,1332.9 L495.2,1336.0 L496.1,1339.3 L497.2,1341.6 L497.4,1344.3 L497.9,1347.0 L498.9,1349.6 L499.9,1352.4 L500.6,1355.3 L501.7,1358.1 L502.6,1361.0 L502.6,1364.1 L503.7,1367.0 L504.6,1369.9 L505.1,1373.0 L506.3,1375.8 L506.7,1378.8 L507.5,1381.7 L508.8,1384.5 L509.5,1387.6 L510.3,1390.7 L511.1,1393.8 L511.7,1397.0 L512.7,1400.0 L513.4,1403.1 L514.4,1406.0 L514.5,1409.1 L515.7,1411.8 L516.3,1414.5 L517.0,1417.1 L517.4,1419.6 L518.9,1423.3 L519.6,1426.8 L520.9,1429.8 L521.9,1432.6 L522.8,1435.3 L524.2,1437.9 L524.8,1440.7 L526.0,1443.5 L527.2,1446.5 L527.7,1449.7 L529.2,1452.6 L530.1,1455.7 L531.0,1458.7 L532.2,1461.6 L533.5,1464.4 L534.4,1467.2 L535.5,1470.2 L536.5,1473.1 L538.1,1475.7 L538.9,1478.5 L540.3,1481.1 L541.6,1483.8 L542.7,1486.7 L544.3,1489.0 L545.8,1491.5 L547.3,1494.1 L548.9,1496.6 L551.0,1498.9 L552.5,1501.4 L554.3,1503.6 L555.8,1505.9 L557.6,1509.0 L559.8,1512.0 L561.6,1515.0 L563.4,1517.7 L564.8,1520.3 L566.5,1522.1 L569.8,1524.8 L572.9,1525.5 L575.7,1525.3 L578.6,1525.7 L581.5,1526.6 L583.5,1527.7 L586.0,1528.9 L588.1,1530.7 L590.2,1532.7 L592.8,1533.9 L595.4,1535.4 L598.2,1536.9 L600.8,1539.3 L602.8,1541.0 L604.8,1542.8 L607.4,1544.2 L609.3,1546.6 L611.5,1548.7 L614.0,1550.8 L615.4,1553.4 L617.2,1555.7 L619.5,1557.7 L620.9,1560.6 L623.1,1562.9 L624.9,1565.6 L626.4,1568.4 L628.1,1570.7 L630.1,1572.9 L631.5,1575.6 L633.0,1578.3 L634.7,1580.7 L636.4,1583.1 L638.0,1585.4 L639.5,1587.6 L642.2,1589.5 L644.4,1591.7 L647.0,1593.3 L649.7,1594.5 L652.1,1596.3 L654.5,1598.3 L657.1,1600.2 L660.0,1602.1 L662.1,1604.9 L664.8,1606.8 L667.1,1608.8 L669.8,1609.7 L672.7,1611.3 L675.5,1611.9 L677.9,1613.0 L680.4,1613.1 L683.4,1614.0 L685.9,1615.0 L689.0,1615.7 L691.9,1615.4 L695.1,1614.3 L698.4,1613.5 L701.8,1613.6 L705.2,1613.1 L708.7,1612.9 L711.9,1612.4 L714.8,1612.5 L718.0,1614.4 L721.2,1614.9 L723.3,1613.8 L726.2,1613.0 L728.9,1611.0 L732.0,1609.2 L734.0,1607.4 L736.9,1606.6 L739.2,1604.6 L742.2,1603.6 L744.6,1601.8 L746.8,1600.3 L749.3,1598.8 L751.6,1597.5 L753.3,1595.6 L755.3,1593.7 L757.7,1591.8 L759.3,1589.8 L761.1,1587.7 L763.1,1585.5 L764.9,1583.1 L766.9,1580.9 L768.8,1578.7 L770.5,1576.7 L772.8,1574.4 L774.4,1571.8 L776.3,1569.6 L777.9,1567.3 L779.9,1565.2 L781.8,1563.0 L783.9,1561.2 L785.9,1559.2 L788.5,1557.7 L790.7,1555.7 L793.0,1553.7 L795.7,1552.2 L798.5,1550.7 L800.8,1548.2 L803.8,1546.2 L805.4,1543.9 L807.2,1541.6 L809.2,1539.3 L810.8,1536.5 L812.7,1533.9 L814.7,1531.4 L816.8,1529.0 L818.2,1526.6 L820.3,1524.7 L822.0,1522.4 L823.8,1520.3 L825.6,1518.0 L827.5,1515.8 L829.2,1513.5 L831.3,1511.5 L833.3,1509.4 L835.8,1507.7 L837.7,1505.3 L839.8,1503.2 L841.9,1501.1 L844.5,1499.6 L846.7,1497.7 L848.8,1495.7 L851.1,1493.4 L853.6,1491.4 L856.1,1489.5 L858.7,1487.7 L861.0,1485.8 L863.5,1484.3 L865.8,1482.5 L868.8,1481.3 L871.4,1479.8 L873.8,1478.2 L876.2,1476.6 L878.9,1475.8 L880.8,1474.0 L883.3,1472.2 L885.4,1470.2 L887.7,1468.6 L889.7,1467.0 L891.7,1465.5 L894.4,1463.2 L897.1,1461.6 L900.1,1459.7 L903.1,1459.0 L906.3,1458.2 L909.8,1457.9 L913.0,1457.1 L916.3,1456.6 L919.7,1456.2 L922.9,1455.8 L926.0,1455.9 L928.8,1456.0 L931.4,1456.5 L934.0,1457.0 L936.8,1457.7 L939.8,1458.6 L943.1,1459.2 L946.4,1460.2 L949.5,1461.6 L952.9,1461.7 L956.1,1462.9 L959.4,1463.5 L962.6,1463.6 L965.3,1464.7 L967.9,1465.1 L970.5,1465.2 L973.3,1465.7 L976.3,1466.4 L979.6,1466.6 L982.8,1467.7 L986.1,1468.3 L989.3,1469.1 L992.5,1469.6 L995.8,1469.9 L999.0,1469.9 L1002.3,1469.9 L1005.5,1469.2 L1008.7,1468.7 L1011.9,1468.1 L1015.1,1468.2 L1018.3,1468.8 L1021.4,1469.5 L1024.8,1469.5 L1027.7,1470.0 L1030.7,1469.6 L1033.8,1469.3 L1036.9,1468.9 L1040.0,1468.4 L1043.1,1467.6 L1046.1,1466.4 L1049.4,1466.2 L1052.4,1465.4 L1055.3,1464.9 L1058.7,1465.1 L1061.8,1465.8 L1065.1,1466.3 L1068.0,1467.7 L1070.6,1468.1 L1073.1,1469.0 L1075.5,1470.2 L1078.0,1471.4 L1080.9,1471.6 L1083.6,1472.2 L1086.5,1472.3 L1089.5,1471.8 L1092.6,1471.5 L1095.8,1471.4 L1098.8,1471.4 L1101.8,1471.6 L1104.8,1471.6 L1107.7,1471.9 L1110.7,1471.6 L1113.7,1471.7 L1116.7,1471.6 L1119.8,1471.6 L1122.8,1470.6 L1126.0,1470.1 L1128.9,1469.0 L1131.9,1468.4 L1134.6,1468.1 L1138.1,1468.1 L1141.3,1468.0 L1144.2,1468.1 L1147.3,1468.1 L1149.8,1469.0 L1152.4,1470.0 L1155.0,1471.2 L1157.6,1471.9 L1160.1,1472.9 L1163.2,1472.0 L1166.5,1471.7 L1169.6,1470.5 L1172.8,1468.9 L1175.8,1468.8 L1178.9,1468.6 L1182.0,1468.3 L1185.1,1467.6 L1188.2,1467.3 L1191.3,1467.4 L1194.2,1468.2 L1197.3,1468.1 L1200.4,1468.9 L1203.6,1469.0 L1206.4,1469.8 L1209.3,1470.7 L1212.4,1470.7 L1215.3,1471.9 L1218.4,1472.2 L1221.4,1472.9 L1224.4,1473.1 L1227.4,1472.9 L1230.3,1473.7 L1233.3,1473.4 L1236.3,1473.1 L1239.3,1473.0 L1242.3,1473.2 L1245.2,1472.8 L1248.1,1472.3 L1251.0,1471.8 L1254.1,1471.5 L1257.2,1471.2 L1260.0,1471.4 L1262.9,1470.6 L1265.9,1471.0 L1269.0,1471.0 L1271.9,1470.3 L1274.9,1470.7 L1277.7,1470.3 L1280.9,1470.0 L1284.0,1468.9 L1287.1,1468.4 L1290.1,1467.8 L1293.0,1467.7 L1295.6,1466.8 L1299.1,1465.8 L1302.3,1465.0 L1305.3,1464.1 L1308.2,1463.3 L1311.3,1462.8 L1314.3,1462.9 L1317.1,1462.1 L1319.7,1462.7 L1322.9,1463.3 L1325.7,1465.0 L1328.8,1466.7 L1331.8,1467.4 L1335.0,1468.3 L1338.2,1469.6 L1341.5,1470.4 L1344.7,1471.4 L1347.9,1472.4 L1351.0,1473.6 L1354.3,1474.3 L1357.8,1473.9 L1361.5,1473.7 L1364.7,1472.6 L1367.1,1472.6" fill="none" stroke="#000" stroke-width="4.3" stroke-linejoin="round" stroke-linecap="round"/>
<line x1="414.0" y1="1061.6" x2="414.0" y2="1218.1" stroke="#000" stroke-width="4.2"/>
<line x1="409.1" y1="1061.6" x2="418.9" y2="1061.6" stroke="#000" stroke-width="4" stroke-linecap="round"/>
<line x1="409.1" y1="1077.2" x2="418.9" y2="1077.2" stroke="#000" stroke-width="4" stroke-linecap="round"/>
<line x1="409.1" y1="1127.7" x2="418.9" y2="1127.7" stroke="#000" stroke-width="4" stroke-linecap="round"/>
<line x1="409.1" y1="1218.1" x2="418.9" y2="1218.1" stroke="#000" stroke-width="4" stroke-linecap="round"/>
<line x1="590.2" y1="1516.0" x2="590.2" y2="1561.7" stroke="#000" stroke-width="4.2"/>
<line x1="585.3" y1="1516.0" x2="595.1" y2="1516.0" stroke="#000" stroke-width="4" stroke-linecap="round"/>
<line x1="585.3" y1="1544.5" x2="595.1" y2="1544.5" stroke="#000" stroke-width="4" stroke-linecap="round"/>
<line x1="585.3" y1="1548.8" x2="595.1" y2="1548.8" stroke="#000" stroke-width="4" stroke-linecap="round"/>
<line x1="585.3" y1="1561.7" x2="595.1" y2="1561.7" stroke="#000" stroke-width="4" stroke-linecap="round"/>
<text transform="translate(90.3,1742.3) scale(0.992,1)" text-anchor="end" font-size="35.7">-4</text>
<text transform="translate(90.3,1675.2) scale(0.992,1)" text-anchor="end" font-size="35.7">-3</text>
<text transform="translate(90.3,1608.1) scale(0.992,1)" text-anchor="end" font-size="35.7">-2</text>
<text transform="translate(90.3,1541.1) scale(0.992,1)" text-anchor="end" font-size="35.7">-1</text>
<text transform="translate(90.3,1474.0) scale(0.992,1)" text-anchor="end" font-size="35.7">0</text>
<text transform="translate(90.3,1406.9) scale(0.992,1)" text-anchor="end" font-size="35.7">1</text>
<text transform="translate(90.3,1339.8) scale(0.992,1)" text-anchor="end" font-size="35.7">2</text>
<text transform="translate(90.3,1272.7) scale(0.992,1)" text-anchor="end" font-size="35.7">3</text>
<text transform="translate(90.3,1205.6) scale(0.992,1)" text-anchor="end" font-size="35.7">4</text>
<text transform="translate(90.3,1138.6) scale(0.992,1)" text-anchor="end" font-size="35.7">5</text>
<text transform="translate(90.3,1071.5) scale(0.992,1)" text-anchor="end" font-size="35.7">6</text>
<text transform="translate(90.3,1004.4) scale(0.992,1)" text-anchor="end" font-size="35.7">7</text>
<text transform="translate(113.0,1507.8) scale(0.992,1)" text-anchor="middle" font-size="35.7">170</text>
<text transform="translate(238.4,1507.8) scale(0.992,1)" text-anchor="middle" font-size="35.7">180</text>
<text transform="translate(363.9,1507.8) scale(0.992,1)" text-anchor="middle" font-size="35.7">190</text>
<text transform="translate(489.3,1507.8) scale(0.992,1)" text-anchor="middle" font-size="35.7">200</text>
<text transform="translate(614.7,1507.8) scale(0.992,1)" text-anchor="middle" font-size="35.7">210</text>
<text transform="translate(740.1,1507.8) scale(0.992,1)" text-anchor="middle" font-size="35.7">220</text>
<text transform="translate(865.6,1507.8) scale(0.992,1)" text-anchor="middle" font-size="35.7">230</text>
<text transform="translate(991.0,1507.8) scale(0.992,1)" text-anchor="middle" font-size="35.7">240</text>
<text transform="translate(1116.4,1507.8) scale(0.992,1)" text-anchor="middle" font-size="35.7">250</text>
<text transform="translate(1241.9,1507.8) scale(0.992,1)" text-anchor="middle" font-size="35.7">260</text>
<text transform="translate(1367.3,1507.8) scale(0.992,1)" text-anchor="middle" font-size="35.7">270</text>
<text transform="translate(737.4,1781.0) scale(0.961,1)" text-anchor="middle" letter-spacing="0.1" font-size="36.2">Wavelength (nm)</text>
<text transform="translate(31.9,1365.2) rotate(-90) scale(0.961,1)" text-anchor="middle" letter-spacing="0.45" font-size="36.2">Delta Epsilon</text>
<text y="959.3" font-family="'Liberation Serif',serif" font-size="35"><tspan x="106.4" dy="-1.5" font-size="31.9">(</tspan><tspan x="117.3" dy="1.5" font-style="italic">b</tspan><tspan x="134.6" dy="-1.5" font-size="31.9">)</tspan></text>
</svg>
</body></html>
